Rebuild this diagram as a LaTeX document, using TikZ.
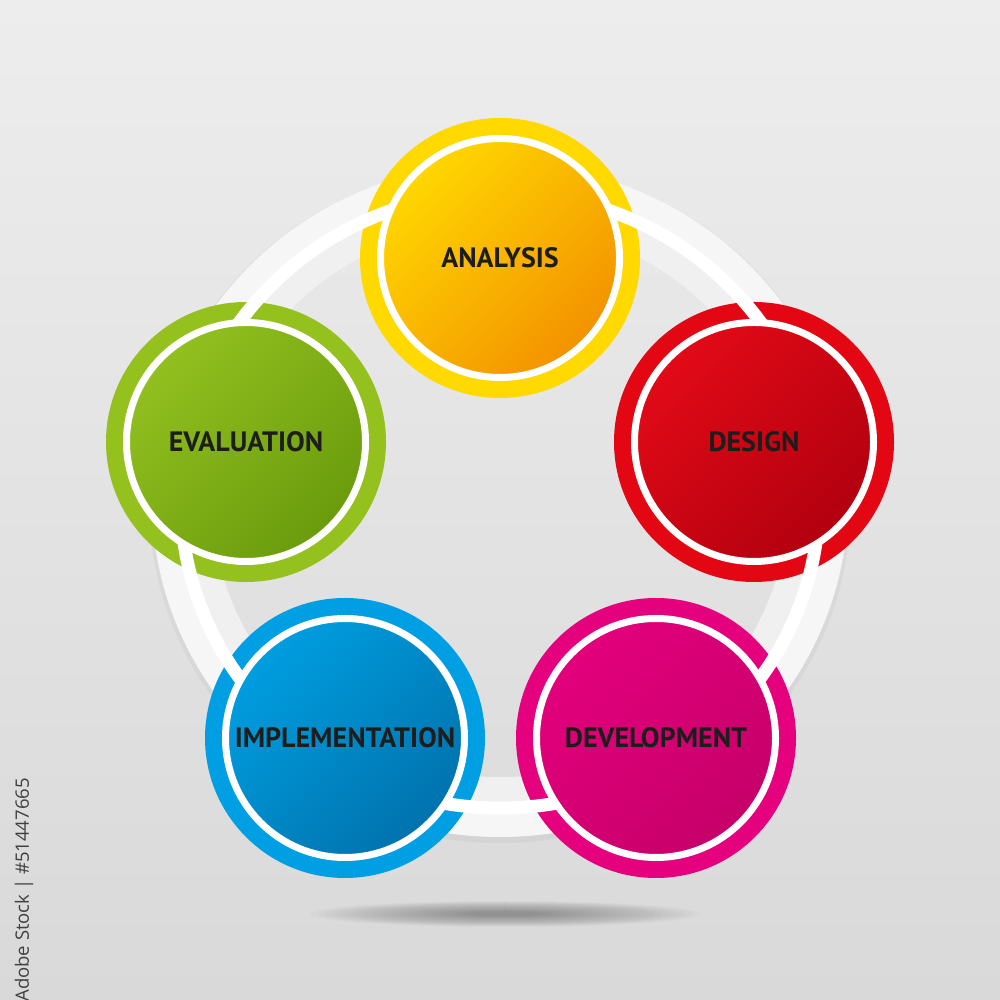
\documentclass[tikz,border=0pt]{standalone}
\usepackage{fontspec}
\setmainfont{PT Sans}
\newfontfamily\wmfont{Open Sans}
\begin{document}
\begin{tikzpicture}[x=1pt,y=1pt]
\definecolor{bgtop}{HTML}{EDEDED}
\definecolor{bgbot}{HTML}{D9D9D9}
\definecolor{ringout}{HTML}{F6F6F6}
\definecolor{ringin}{HTML}{F0F0F0}
\definecolor{txt}{HTML}{1D1D1B}
\definecolor{yelO}{HTML}{FFD900}
\definecolor{yelA}{HTML}{FFD700}
\definecolor{yelB}{HTML}{F39200}
\definecolor{redO}{HTML}{E30613}
\definecolor{redA}{HTML}{E20A17}
\definecolor{redB}{HTML}{B2000F}
\definecolor{magO}{HTML}{E5007E}
\definecolor{magA}{HTML}{E3007C}
\definecolor{magB}{HTML}{C60069}
\definecolor{bluO}{HTML}{009FE3}
\definecolor{bluA}{HTML}{009EE0}
\definecolor{bluB}{HTML}{0072AD}
\definecolor{grnO}{HTML}{95C11F}
\definecolor{grnA}{HTML}{92C020}
\definecolor{grnB}{HTML}{6A9B0C}
\tikzset{
  outerdisc/.style={circle, minimum size=280, inner sep=0, draw=none},
  innerdisc/.style n args={2}{circle, minimum size=239, inner sep=0, draw=white, line width=7,
    top color=#1, bottom color=#2, shading angle=45, text=txt,
    font=\bfseries\fontsize{28}{32}\selectfont},
}
\useasboundingbox (0,0) rectangle (1000,1000);
\shade[top color=bgtop, bottom color=bgbot] (0,0) rectangle (1000,1000);
% floor shadow
\foreach \i in {0,...,21}
  \fill[black, opacity=0.014] (505,86) ellipse ({195-\i*7.5} and {13-\i*0.5});
% ring band
\fill[black, opacity=0.035, even odd rule] (500,497) ellipse (351 and 340) (500,500) ellipse (288 and 277);
\fill[ringout, even odd rule] (500,500) ellipse (348 and 337) (500,500) ellipse (316 and 305);
\fill[ringin, even odd rule] (500,500) ellipse (316 and 305) (500,500) ellipse (288 and 277);
% outer coloured discs
\node[outerdisc, fill=yelO] (anaO) at (500,742) {};
\node[outerdisc, fill=redO] (desO) at (754,558) {};
\node[outerdisc, fill=grnO] (evaO) at (246,558) {};
\node[outerdisc, fill=bluO] (impO) at (345,262) {};
\node[outerdisc, fill=magO] (devO) at (656,262) {};
% white stripe of the ring
\draw[white, line width=13] (500,500) ellipse (319 and 308);
% inner discs with labels
\node[innerdisc={yelA}{yelB}] (ana) at (anaO) {ANALYSIS};
\node[innerdisc={redA}{redB}] (des) at (desO) {DESIGN};
\node[innerdisc={grnA}{grnB}] (eva) at (evaO) {EVALUATION};
\node[innerdisc={bluA}{bluB}] (imp) at (impO) {IMPLEMENTATION};
\node[innerdisc={magA}{magB}] (dev) at (devO) {DEVELOPMENT};
% side text
\node[rotate=90, anchor=east, inner sep=0, text=black!75, font=\wmfont\fontsize{18.5}{22}\selectfont] (stock) at (24,222) {Adobe Stock | \#51447665};
\end{tikzpicture}
\end{document}
